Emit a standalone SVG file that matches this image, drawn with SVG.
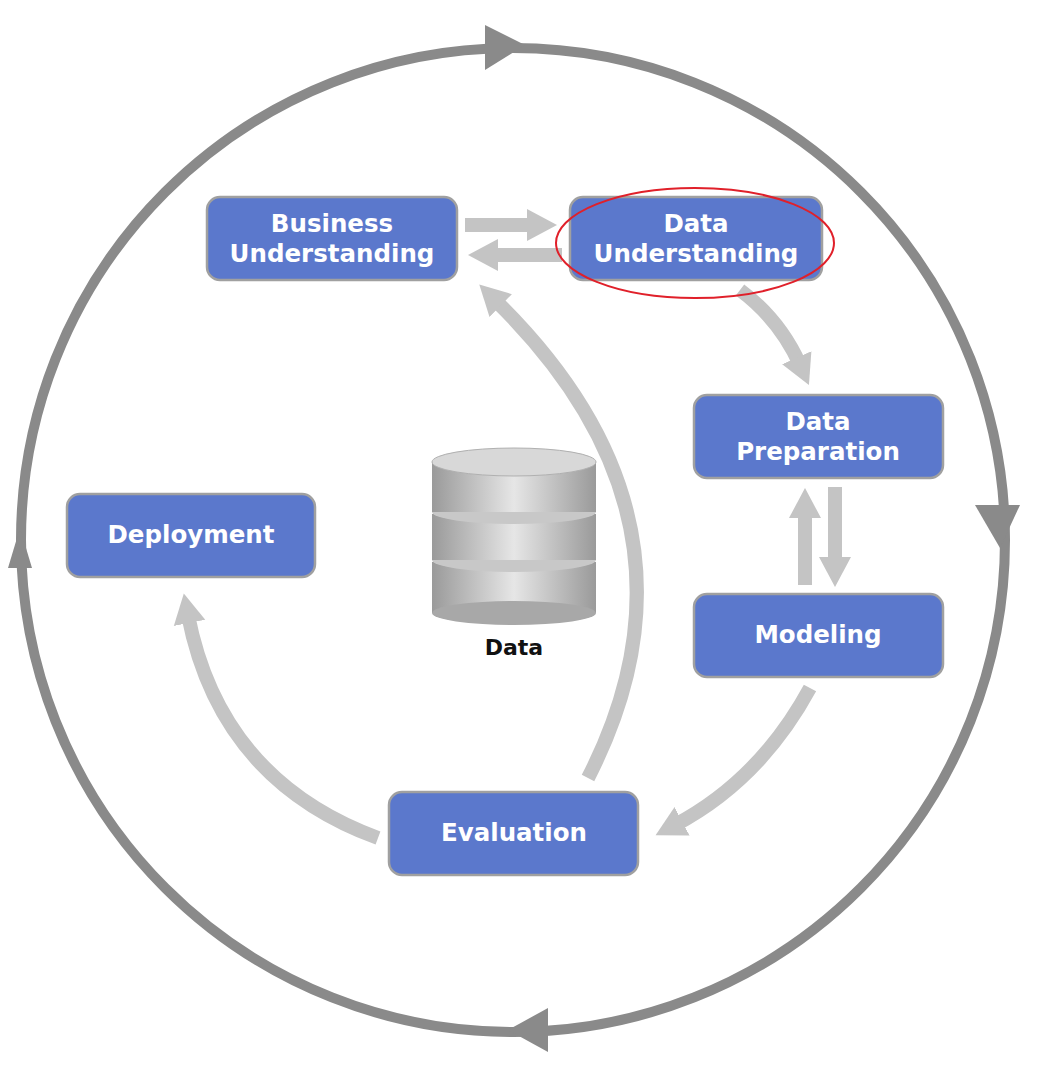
<svg xmlns="http://www.w3.org/2000/svg" width="1050" height="1070" viewBox="0 0 1050 1070">
<style>
.node rect{fill:#5b78cc;stroke:#a0a0a0;stroke-width:2.5}
.node text{fill:#fff;font-family:Verdana,"DejaVu Sans",sans-serif;font-weight:bold;font-size:24.5px;text-anchor:middle}
.la{fill:none;stroke:#c4c4c4;stroke-width:14;marker-end:url(#la)}
</style>
<defs>
<marker id="la" markerUnits="userSpaceOnUse" markerWidth="40" markerHeight="40" refX="8" refY="20" orient="auto"><path d="M0,4 L30,20 L0,36 Z" fill="#c4c4c4"/></marker>
<linearGradient id="cyl" x1="0" x2="1"><stop offset="0" stop-color="#9a9a9a"/><stop offset="0.5" stop-color="#e6e6e6"/><stop offset="1" stop-color="#9a9a9a"/></linearGradient>
</defs>
<g id="cycle">
<circle cx="513" cy="540" r="492" fill="none" stroke="#8a8a8a" stroke-width="10"/>
<path d="M485,25 L525,45 L485,70 Z" fill="#8a8a8a"/>
<path d="M975,505 L1020,505 L1000,548 Z" fill="#8a8a8a"/>
<path d="M548,1008 L508,1030 L548,1052 Z" fill="#8a8a8a"/>
<path d="M8,568 L32,568 L20,528 Z" fill="#8a8a8a"/>
</g>
<g id="connectors">
<path class="la" d="M465,225 L535,225"/>
<path class="la" d="M562,255 L490,255"/>
<path class="la" d="M740,290 Q780,320 800,365"/>
<path class="la" d="M835,487 L835,565"/>
<path class="la" d="M805,585 L805,510"/>
<path class="la" d="M810,688 Q760,780 675,825"/>
<path class="la" d="M588,778 Q720,520 495,300"/>
<path class="la" d="M378,838 Q220,780 188,615"/>
</g>
<g id="data">
<rect x="432" y="562" width="164" height="51" fill="url(#cyl)"/>
<ellipse cx="514" cy="613" rx="82" ry="12" fill="#a8a8a8"/>
<ellipse cx="514" cy="560" rx="82" ry="12" fill="#c8c8c8"/>
<rect x="432" y="514" width="164" height="46" fill="url(#cyl)"/>
<ellipse cx="514" cy="512" rx="82" ry="12" fill="#c8c8c8"/>
<rect x="432" y="462" width="164" height="50" fill="url(#cyl)"/>
<ellipse cx="514" cy="462" rx="82" ry="14" fill="#d8d8d8" stroke="#b0b0b0"/>
<text x="514" y="655" font-family="Verdana,'DejaVu Sans',sans-serif" font-weight="bold" font-size="22" text-anchor="middle" fill="#111">Data</text>
</g>
<g id="bu" class="node"><rect x="207" y="197" width="250" height="83" rx="13"/><text x="332" y="232">Business</text><text x="332" y="262">Understanding</text></g>
<g id="du" class="node"><rect x="570" y="197" width="252" height="83" rx="13"/><text x="696" y="232">Data</text><text x="696" y="262">Understanding</text></g>
<g id="dp" class="node"><rect x="694" y="395" width="249" height="83" rx="13"/><text x="818" y="430">Data</text><text x="818" y="460">Preparation</text></g>
<g id="mod" class="node"><rect x="694" y="594" width="249" height="83" rx="13"/><text x="818" y="643">Modeling</text></g>
<g id="eval" class="node"><rect x="389" y="792" width="249" height="83" rx="13"/><text x="514" y="841">Evaluation</text></g>
<g id="dep" class="node"><rect x="67" y="494" width="248" height="83" rx="13"/><text x="191" y="543">Deployment</text></g>
<ellipse id="highlight" cx="695" cy="243" rx="139" ry="55" fill="none" stroke="#e0202a" stroke-width="2"/>
</svg>
